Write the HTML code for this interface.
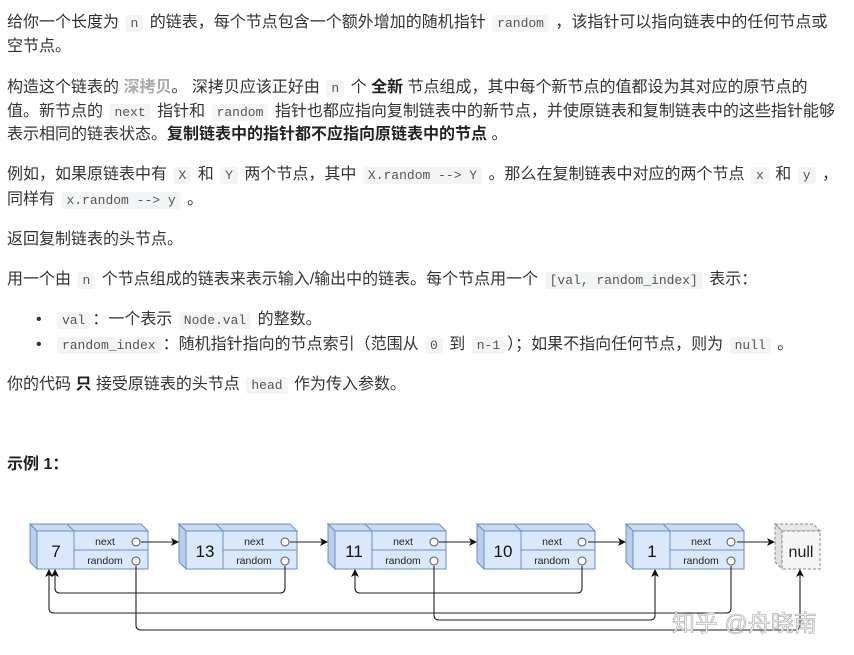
<!DOCTYPE html>
<html><head><meta charset="utf-8"><style>
body{margin:0;width:854px;height:655px;background:#fff;position:relative;overflow:hidden;font-family:"Liberation Sans","Noto Sans CJK SC",sans-serif;font-size:16px;color:#333;}
.l{position:absolute;left:7px;white-space:nowrap;line-height:20px;}
code{font-family:"Liberation Mono","Noto Sans CJK SC",monospace;font-size:13px;color:#555;background:#f3f4f5;padding:1px 5px;border-radius:3px;margin:0 2px;}
b{font-weight:bold;color:#222}
.g{color:#aaa;font-weight:bold}
</style></head><body>
<div class="l" style="top:13px">给你一个长度为 <code>n</code> 的链表，每个节点包含一个额外增加的随机指针 <code>random</code> ，该指针可以指向链表中的任何节点或</div>
<div class="l" style="top:37px">空节点。</div>
<div class="l" style="top:78px">构造这个链表的 <span class="g">深拷贝</span>。 深拷贝应该正好由 <code>n</code> 个 <b>全新</b> 节点组成，其中每个新节点的值都设为其对应的原节点的</div>
<div class="l" style="top:102px">值。新节点的 <code>next</code> 指针和 <code>random</code> 指针也都应指向复制链表中的新节点，并使原链表和复制链表中的这些指针能够</div>
<div class="l" style="top:125px">表示相同的链表状态。<b>复制链表中的指针都不应指向原链表中的节点</b> 。</div>
<div class="l" style="top:165px">例如，如果原链表中有 <code>X</code> 和 <code>Y</code> 两个节点，其中 <code>X.random --&gt; Y</code> 。那么在复制链表中对应的两个节点 <code>x</code> 和 <code>y</code> ，</div>
<div class="l" style="top:190px">同样有 <code>x.random --&gt; y</code> 。</div>
<div class="l" style="top:230px">返回复制链表的头节点。</div>
<div class="l" style="top:270px">用一个由 <code>n</code> 个节点组成的链表来表示输入/输出中的链表。每个节点用一个 <code>[val, random_index]</code> 表示：</div>
<div class="l" style="top:310px;left:36px">•&nbsp;&nbsp;&nbsp;<code>val</code>：一个表示 <code>Node.val</code> 的整数。</div>
<div class="l" style="top:335px;left:36px">•&nbsp;&nbsp;&nbsp;<code>random_index</code>：随机指针指向的节点索引（范围从 <code>0</code> 到 <code>n-1</code>）；如果不指向任何节点，则为 <code>null</code> 。</div>
<div class="l" style="top:375px">你的代码 <b>只</b> 接受原链表的头节点 <code>head</code> 作为传入参数。</div>
<div class="l" style="top:455px"><b>示例 1：</b></div>

<svg width="854" height="655" style="position:absolute;left:0;top:0" xmlns="http://www.w3.org/2000/svg">
<defs><marker id="a" markerWidth="8" markerHeight="8" refX="7" refY="4" orient="auto" markerUnits="userSpaceOnUse"><path d="M0,0 L8,4 L0,8 L2,4 z" fill="#111"/></marker></defs>
<g stroke="#6c8ebf" fill="#dae8fc">
<g transform="translate(0,0)"><polygon points="30,524 141,524 148,531 37,531" fill="#c9daf3"/><polygon points="30,524 37,531 37,569 30,562" fill="#b9cdec"/><rect x="37" y="531" width="111" height="38"/><line x1="74" y1="531" x2="74" y2="569"/><line x1="67" y1="524" x2="74" y2="531"/><line x1="74" y1="550" x2="148" y2="550"/></g>
<g transform="translate(149,0)"><polygon points="30,524 141,524 148,531 37,531" fill="#c9daf3"/><polygon points="30,524 37,531 37,569 30,562" fill="#b9cdec"/><rect x="37" y="531" width="111" height="38"/><line x1="74" y1="531" x2="74" y2="569"/><line x1="67" y1="524" x2="74" y2="531"/><line x1="74" y1="550" x2="148" y2="550"/></g>
<g transform="translate(298,0)"><polygon points="30,524 141,524 148,531 37,531" fill="#c9daf3"/><polygon points="30,524 37,531 37,569 30,562" fill="#b9cdec"/><rect x="37" y="531" width="111" height="38"/><line x1="74" y1="531" x2="74" y2="569"/><line x1="67" y1="524" x2="74" y2="531"/><line x1="74" y1="550" x2="148" y2="550"/></g>
<g transform="translate(447,0)"><polygon points="30,524 141,524 148,531 37,531" fill="#c9daf3"/><polygon points="30,524 37,531 37,569 30,562" fill="#b9cdec"/><rect x="37" y="531" width="111" height="38"/><line x1="74" y1="531" x2="74" y2="569"/><line x1="67" y1="524" x2="74" y2="531"/><line x1="74" y1="550" x2="148" y2="550"/></g>
<g transform="translate(596,0)"><polygon points="30,524 141,524 148,531 37,531" fill="#c9daf3"/><polygon points="30,524 37,531 37,569 30,562" fill="#b9cdec"/><rect x="37" y="531" width="111" height="38"/><line x1="74" y1="531" x2="74" y2="569"/><line x1="67" y1="524" x2="74" y2="531"/><line x1="74" y1="550" x2="148" y2="550"/></g>
</g>
<g stroke="#888" fill="#f5f5f5" stroke-dasharray="3,2">
<polygon points="775,524 813,524 820,531 782,531" fill="#e8e8e8"/><polygon points="775,524 782,531 782,569 775,562" fill="#e0e0e0"/><rect x="782" y="531" width="38" height="38"/>
</g>
<text x="801" y="557" font-family="'Liberation Sans',sans-serif" font-size="16" fill="#222" text-anchor="middle">null</text>
<g font-family="'Liberation Sans',sans-serif" fill="#111" text-anchor="middle" font-size="17">
<text x="56" y="557">7</text><text x="205" y="557">13</text><text x="354" y="557">11</text><text x="503" y="557">10</text><text x="652" y="557">1</text>
</g>
<g font-family="'Liberation Sans',sans-serif" font-size="10.5" fill="#222" text-anchor="middle">
<text x="105" y="545">next</text><text x="105" y="564">random</text>
<text x="254" y="545">next</text><text x="254" y="564">random</text>
<text x="403" y="545">next</text><text x="403" y="564">random</text>
<text x="552" y="545">next</text><text x="552" y="564">random</text>
<text x="701" y="545">next</text><text x="701" y="564">random</text>
</g>
<g fill="none" stroke="#222" stroke-width="1.1">
<path d="M141,542 H178" marker-end="url(#a)"/>
<path d="M290,542 H327" marker-end="url(#a)"/>
<path d="M439,542 H476" marker-end="url(#a)"/>
<path d="M588,542 H625" marker-end="url(#a)"/>
<path d="M737,542 H774" marker-end="url(#a)"/>
<path d="M285,566 V588 Q285,593 280,593 H60 Q55,593 55,588 V570" marker-end="url(#a)"/>
<path d="M582,566 V588 Q582,593 577,593 H360 Q355,593 355,588 V570" marker-end="url(#a)"/>
<path d="M731,566 V608 Q731,613 726,613 H54 Q49,613 49,608 V570" marker-end="url(#a)"/>
<path d="M434,566 V615 Q434,620 439,620 H650 Q655,620 655,615 V570" marker-end="url(#a)"/>
<path d="M136,566 V625 Q136,630 141,630 H795 Q800,630 800,625 V570" marker-end="url(#a)"/>
</g>
<g fill="#fff" stroke="#555" stroke-width="1">
<circle cx="136" cy="542" r="4"/><circle cx="136" cy="561" r="4"/>
<circle cx="285" cy="542" r="4"/><circle cx="285" cy="561" r="4"/>
<circle cx="434" cy="542" r="4"/><circle cx="434" cy="561" r="4"/>
<circle cx="582" cy="542" r="4"/><circle cx="582" cy="561" r="4"/>
<circle cx="731" cy="542" r="4"/><circle cx="731" cy="561" r="4"/>
</g>
<text x="672" y="631" font-family="'Liberation Sans','Noto Sans CJK SC',sans-serif" font-size="23" fill="#f2f2f2" stroke="#aaa" stroke-width="0.6">知乎 @舟晓南</text>
</svg>
</body></html>
